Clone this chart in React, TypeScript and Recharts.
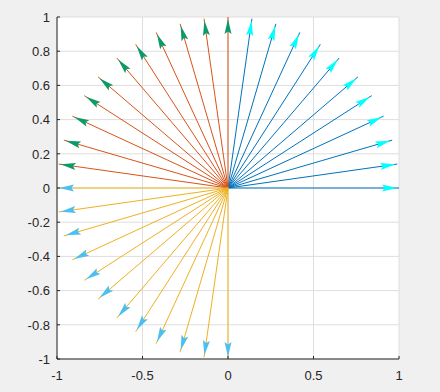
import React from "react";
import {
  ComposedChart,
  XAxis,
  YAxis,
  CartesianGrid,
  ReferenceLine,
  Scatter,
} from "recharts";

// tick labels
const xTicks = [-1, -0.5, 0, 0.5, 1];
const yTicks = [-1, -0.8, -0.6, -0.4, -0.2, 0, 0.2, 0.4, 0.6, 0.8, 1];

// vector end points (u, v), all drawn from the origin
const blueU = [1.0, 0.99, 0.96, 0.91, 0.84, 0.76, 0.65, 0.54, 0.42, 0.28, 0.14];
const blueV = [0.0, 0.14, 0.28, 0.42, 0.54, 0.65, 0.76, 0.84, 0.91, 0.96, 0.99];

const orangeU = [0.0, -0.14, -0.28, -0.42, -0.54, -0.65, -0.76, -0.84, -0.91, -0.96, -0.99];
const orangeV = [1.0, 0.99, 0.96, 0.91, 0.84, 0.76, 0.65, 0.54, 0.42, 0.28, 0.14];

const yellowU = [-1.0, -0.99, -0.96, -0.91, -0.84, -0.76, -0.65, -0.54, -0.42, -0.28, -0.14, 0.0];
const yellowV = [0.0, -0.14, -0.28, -0.42, -0.54, -0.65, -0.76, -0.84, -0.91, -0.96, -0.99, -1.0];

const toPoints = (us: number[], vs: number[]) => us.map((u, i) => ({ x: u, y: vs[i] }));

const groups = [
  { name: "q1", data: toPoints(blueU, blueV), line: "#0072BD", head: "#00FFFF" },
  { name: "q2", data: toPoints(orangeU, orangeV), line: "#D95319", head: "#0B9A68" },
  { name: "q3", data: toPoints(yellowU, yellowV), line: "#EDB120", head: "#4DBEEE" },
];

const TEXT = "#262626";
const FONT = "'Liberation Sans', Arial, Helvetica, sans-serif";

const fmt = (v: number) => String(Number(v.toFixed(1)));

function XTick(props: any) {
  const { x, y, payload } = props;
  return (
    <g>
      <line x1={x} y1={y} x2={x} y2={y - 3} stroke={TEXT} />
      <text x={x} y={y + 21} textAnchor="middle" fontSize={13} fontFamily={FONT} fill={TEXT}>
        {fmt(payload.value)}
      </text>
    </g>
  );
}

function YTick(props: any) {
  const { x, y, payload } = props;
  return (
    <g>
      <line x1={x} y1={y} x2={x + 3} y2={y} stroke={TEXT} />
      <text x={x - 7} y={y + 4.7} textAnchor="end" fontSize={13} fontFamily={FONT} fill={TEXT}>
        {fmt(payload.value)}
      </text>
    </g>
  );
}

// filled arrow head at the tip, pointing away from the origin
function Head(props: any) {
  const { cx, cy, payload, color } = props;
  if (cx == null || cy == null) return null;
  const dx0 = payload.x;
  const dy0 = -payload.y;
  const len = Math.hypot(dx0, dy0) || 1;
  const dx = dx0 / len;
  const dy = dy0 / len;
  const nx = -dy;
  const ny = dx;
  const tipX = cx - 2 * dx;
  const tipY = cy - 2 * dy;
  const bx = tipX - 15 * dx;
  const by = tipY - 15 * dy;
  const pts = [
    [tipX, tipY],
    [bx + 3.5 * nx, by + 3.5 * ny],
    [bx + 2.5 * dx, by + 2.5 * dy],
    [bx - 3.5 * nx, by - 3.5 * ny],
  ]
    .map((p) => p.join(","))
    .join(" ");
  return <polygon points={pts} fill={color} stroke="none" />;
}

export default function App() {
  return (
    <div
      style={{
        position: "absolute",
        left: 0,
        top: 0,
        width: 440,
        height: 392,
        background: "#f0f0f0",
      }}
    >
      <ComposedChart
        width={440}
        height={392}
        margin={{ top: 17, right: 41, bottom: 0, left: 0 }}
      >
        <CartesianGrid fill="#ffffff" stroke="#dedede" horizontalValues={yTicks} verticalValues={xTicks} />
        <XAxis
          type="number"
          dataKey="x"
          domain={[-1, 1]}
          ticks={xTicks}
          interval={0}
          height={33}
          tickSize={0}
          tickMargin={0}
          tickLine={false}
          axisLine={{ stroke: TEXT }}
          tick={<XTick />}
        />
        <YAxis
          type="number"
          dataKey="y"
          domain={[-1, 1]}
          ticks={yTicks}
          interval={0}
          width={57}
          tickSize={0}
          tickMargin={0}
          tickLine={false}
          axisLine={{ stroke: TEXT }}
          tick={<YTick />}
        />
        {groups.map((g) =>
          g.data.map((p, i) => (
            <ReferenceLine
              key={`${g.name}-${i}`}
              segment={[{ x: 0, y: 0 }, { x: p.x, y: p.y }]}
              stroke={g.line}
              strokeWidth={1}
              ifOverflow="visible"
            />
          ))
        )}
        {groups.map((g) => (
          <Scatter
            key={g.name}
            data={g.data}
            isAnimationActive={false}
            shape={(p: any) => <Head {...p} color={g.head} />}
          />
        ))}
      </ComposedChart>
    </div>
  );
}
